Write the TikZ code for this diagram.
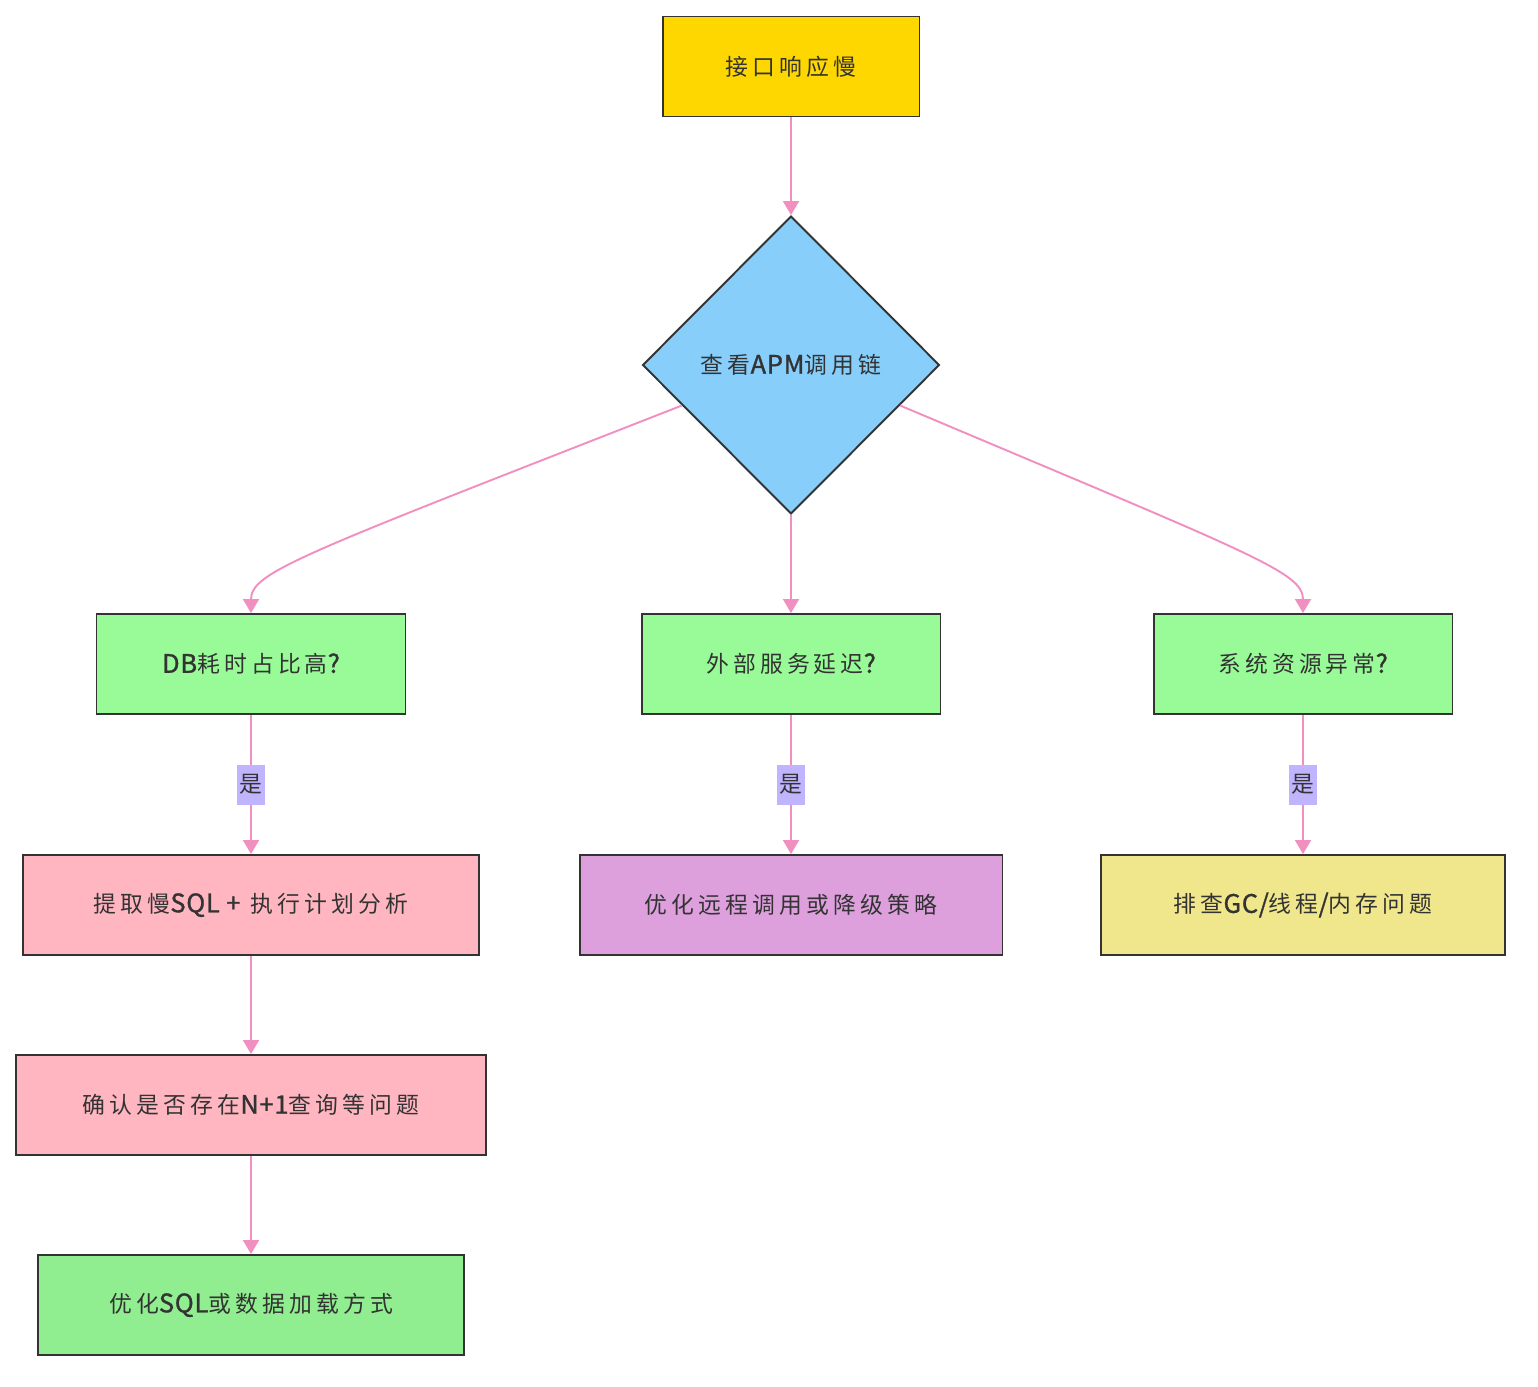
\documentclass[tikz,border=0pt]{standalone}
\usepackage{fontspec}
\setmainfont[LetterSpace=18]{Noto Sans CJK SC}
\newfontfamily\latfont[LetterSpace=3, FakeBold=1.2]{Noto Sans CJK SC}
\usepackage{xcolor}
\usepackage{tikz}
\usetikzlibrary{positioning,arrows.meta,shapes.geometric,calc}

\definecolor{gold}{HTML}{FFD700}
\definecolor{skyblue}{HTML}{87CEFA}
\definecolor{palegreen}{HTML}{98FB98}
\definecolor{lightpink}{HTML}{FFB6C1}
\definecolor{plum}{HTML}{DDA0DD}
\definecolor{khaki}{HTML}{F0E68C}
\definecolor{lightgreen}{HTML}{90EE90}
\definecolor{edgepink}{HTML}{F190C0}
\definecolor{lavender}{HTML}{C0B4FF}
\definecolor{ink}{HTML}{333333}

\newcommand{\lt}[1]{{\latfont\fontsize{14.5}{15}\selectfont #1}}

\begin{document}
\begin{tikzpicture}[
    x=0.02cm, y=-0.02cm,
    box/.style={draw=ink, line width=1.1pt, minimum height=2cm, inner sep=0pt, font=\fontsize{13}{15}\selectfont, text=ink},
    check/.style={box, diamond, aspect=1, minimum width=5.94cm, minimum height=5.96cm},
    edge/.style={edgepink, line width=1.1pt, -{Triangle[length=0.28cm, width=0.32cm]}},
    yes/.style={fill=lavender, inner xsep=1.5pt, minimum height=0.8cm, font=\fontsize{13}{15}\selectfont, text=ink},
]
\useasboundingbox (0,0) rectangle (1538,1386);

\node[box, fill=gold, minimum width=5.14cm] (slow) at (791, 66.5) {接口响应慢};
\node[check, fill=skyblue] (apm) at (791, 365) {查看\lt{APM}调用链};

\node[box, fill=palegreen, minimum width=6.18cm] (db) at (251, 664) {\lt{DB}耗时占比高\lt{?}};
\node[box, fill=palegreen, minimum width=5.98cm] (ext) at (791, 664) {外部服务延迟\lt{?}};
\node[box, fill=palegreen, minimum width=5.98cm] (sys) at (1303, 664) {系统资源异常\lt{?}};

\node[box, fill=lightpink, minimum width=9.14cm] (sql) at (251, 905) {提取慢\lt{SQL + }\,执行计划分析};
\node[box, fill=plum, minimum width=8.46cm] (remote) at (791, 905) {优化远程调用或降级策略};
\node[box, fill=khaki, minimum width=8.08cm] (gc) at (1303, 905) {排查\lt{GC/}线程\lt{/}内存问题};

\node[box, fill=lightpink, minimum width=9.42cm] (nplus) at (251, 1105) {确认是否存在\lt{N+1}查询等问题};
\node[box, fill=lightgreen, minimum width=8.54cm] (optsql) at (251, 1305) {优化\lt{SQL}或数据加载方式};

\coordinate (apmL) at ($(apm.west)!0.27!(apm.south)$);
\coordinate (apmR) at ($(apm.east)!0.27!(apm.south)$);

\draw[edge] (slow) -- (apm);
\draw[edge] (apmL) .. controls (300,555) and (251,572) .. (db.north);
\draw[edge] (apm) -- (ext);
\draw[edge] (apmR) .. controls (1254,555) and (1303,572) .. (sys.north);

\draw[edge] (db) -- node[yes] {是} (sql);
\draw[edge] (ext) -- node[yes] {是} (remote);
\draw[edge] (sys) -- node[yes] {是} (gc);
\draw[edge] (sql) -- (nplus);
\draw[edge] (nplus) -- (optsql);
\end{tikzpicture}
\end{document}
